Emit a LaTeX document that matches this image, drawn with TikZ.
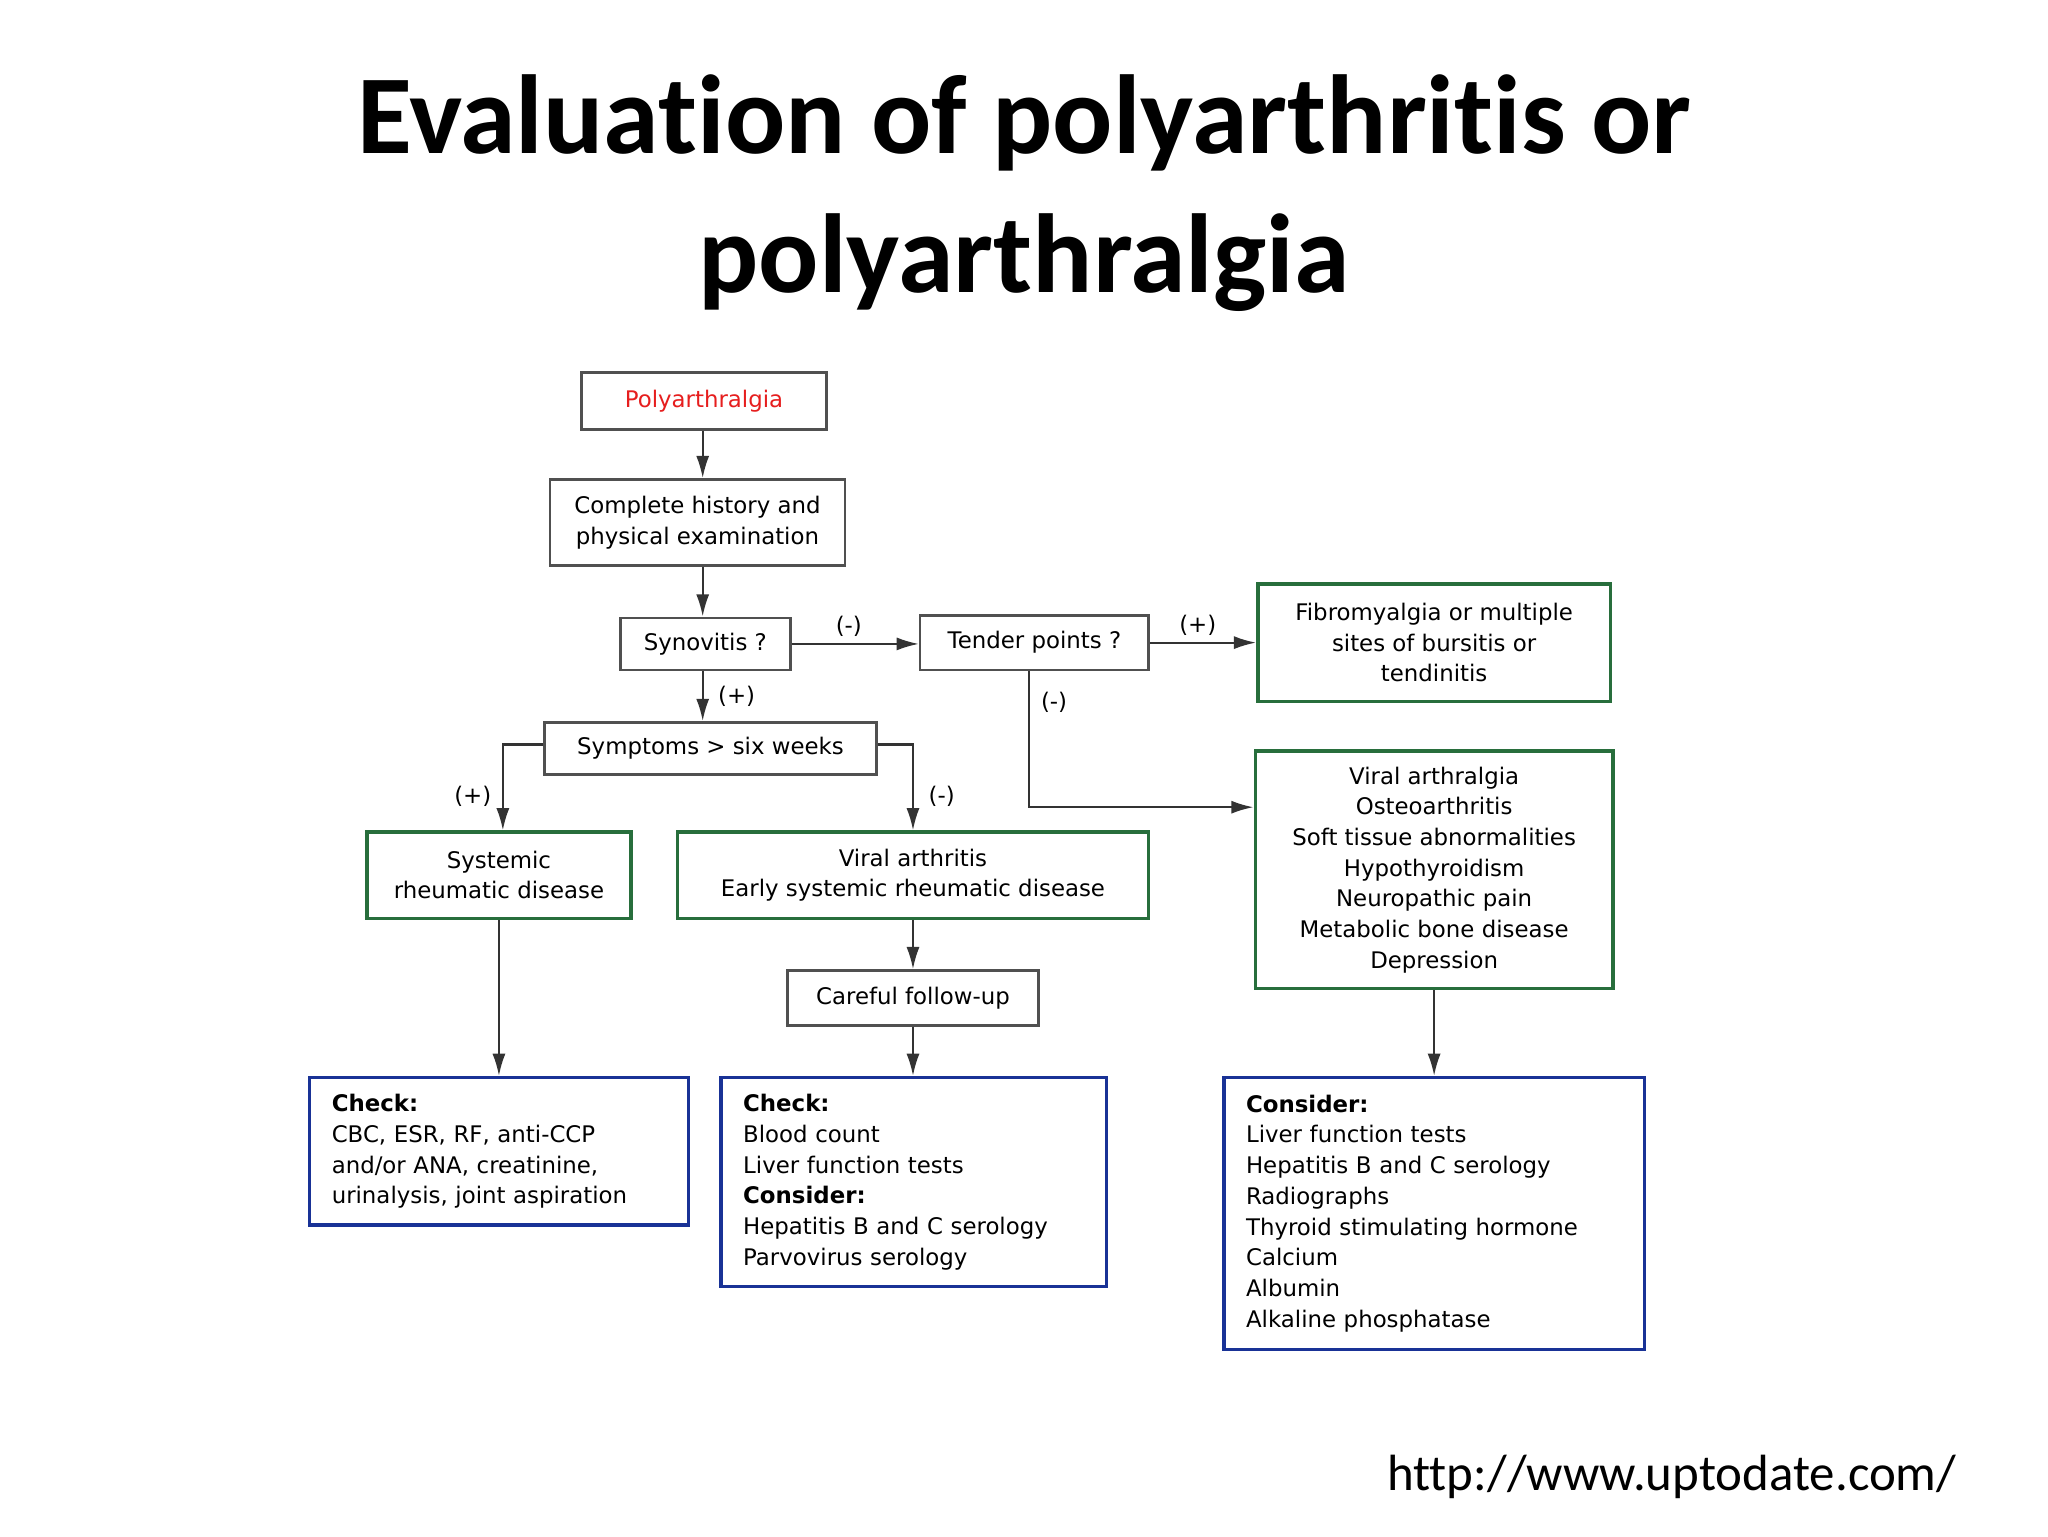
\documentclass[tikz,border=0pt]{standalone}
\usepackage{fontspec}
\setmainfont[Ligatures={NoCommon,NoRequired,NoContextual}]{Carlito}
\newfontfamily\boxfont{DejaVu Sans}
\usetikzlibrary{arrows.meta}
\definecolor{boxgray}{RGB}{80,80,80}
\definecolor{boxgreen}{RGB}{40,110,60}
\definecolor{boxblue}{RGB}{25,50,150}
\definecolor{polyred}{RGB}{230,30,30}
\tikzset{
  plainbox/.style={draw=boxgray,line width=2pt,inner sep=4pt,align=center,
    font=\boxfont\fontsize{17.5}{23.5}\selectfont},
  greenbox/.style={plainbox,draw=boxgreen,line width=2.6pt},
  bluebox/.style={plainbox,draw=boxblue,line width=2.6pt,align=left,inner ysep=0pt,inner xsep=17pt},
  conn/.style={line width=1.6pt,draw=black!80,-{Latex[length=17pt,width=10pt]}},
  sign/.style={font=\boxfont\fontsize{17.5}{20}\selectfont,inner sep=1pt}
}
\begin{document}
\begin{tikzpicture}[x=1pt,y=1pt,yscale=-1]
\useasboundingbox[fill=white] (0,0) rectangle (1568,1176);

% title and source
\node (title) at (784,148) [align=center,font=\bfseries\fontsize{86}{106}\selectfont]
  {Evaluation of polyarthritis or\\polyarthralgia};
\node (src) at (1280,1131) [font=\fontsize{39}{42}\selectfont] {http://www.uptodate.com/};

% boxes
\node (poly) at (539,307) [plainbox,minimum width=188pt,minimum height=44pt,text=polyred] {Polyarthralgia};
\node (hist) at (534,400) [plainbox,minimum width=226pt,minimum height=66pt] {Complete history and\\physical examination};
\node (syn) at (540,493) [plainbox,minimum width=130pt,minimum height=40pt] {Synovitis ?};
\node (tend) at (792,492) [plainbox,minimum width=175pt,minimum height=42pt] {Tender points ?};
\node (fib) at (1098,492) [greenbox,minimum width=270pt,minimum height=90pt] {Fibromyalgia or multiple\\sites of bursitis or\\tendinitis};
\node (sym) at (544,573) [plainbox,minimum width=254pt,minimum height=40pt] {Symptoms > six weeks};
\node (sysr) at (382,670) [greenbox,minimum width=202pt,minimum height=66pt] {Systemic\\rheumatic disease};
\node (vira) at (699,670) [greenbox,minimum width=361pt,minimum height=66pt] {Viral arthritis\\Early systemic rheumatic disease};
\node (list) at (1098,666) [greenbox,minimum width=274pt,minimum height=182pt] {Viral arthralgia\\Osteoarthritis\\Soft tissue abnormalities\\Hypothyroidism\\Neuropathic pain\\Metabolic bone disease\\Depression};
\node (fol) at (699,764) [plainbox,minimum width=192pt,minimum height=42pt] {Careful follow-up};
\node (chkl) at (382,881.5) [bluebox,text width=256pt,minimum height=113pt] {\textbf{Check:}\\CBC, ESR, RF, anti-CCP\\and/or ANA, creatinine,\\urinalysis, joint aspiration};
\node (chkm) at (699.5,905) [bluebox,text width=261pt,minimum height=160pt] {\textbf{Check:}\\Blood count\\Liver function tests\\\textbf{Consider:}\\Hepatitis B and C serology\\Parvovirus serology};
\node (cons) at (1098,929) [bluebox,text width=288pt,minimum height=208pt] {\textbf{Consider:}\\Liver function tests\\Hepatitis B and C serology\\Radiographs\\Thyroid stimulating hormone\\Calcium\\Albumin\\Alkaline phosphatase};

% connectors
\draw[conn] (poly.south -| 538,0) -- (hist.north -| 538,0);
\draw[conn] (hist.south -| 538,0) -- (syn.north -| 538,0);
\draw[conn] (syn.south -| 538,0) -- (sym.north -| 538,0) node[sign,midway,right=10pt] {(+)};
\draw[conn] (syn) -- (syn -| tend.west) node[sign,pos=0.45,above=4pt] {(-)};
\draw[conn] (tend) -- (fib) node[sign,pos=0.45,above=4pt] {(+)};
\coordinate (tbend) at (788,618);
\draw[conn] (tend.south -| tbend) -- (tbend) -- (list.west |- tbend);
\node[sign] (tminus) at (807,538) {(-)};
\coordinate (sbendl) at (385,570);
\draw[conn] (sym.west |- sbendl) -- (sbendl) -- (sysr.north -| sbendl);
\node[sign] (splus) at (362,610) {(+)};
\coordinate (sbendr) at (699,570);
\draw[conn] (sym.east |- sbendr) -- (sbendr) -- (vira.north);
\node[sign] (sminus) at (721,610) {(-)};
\draw[conn] (sysr) -- (chkl);
\draw[conn] (vira) -- (fol);
\draw[conn] (fol) -- (chkm.north -| fol);
\draw[conn] (list) -- (cons);
\end{tikzpicture}
\end{document}
